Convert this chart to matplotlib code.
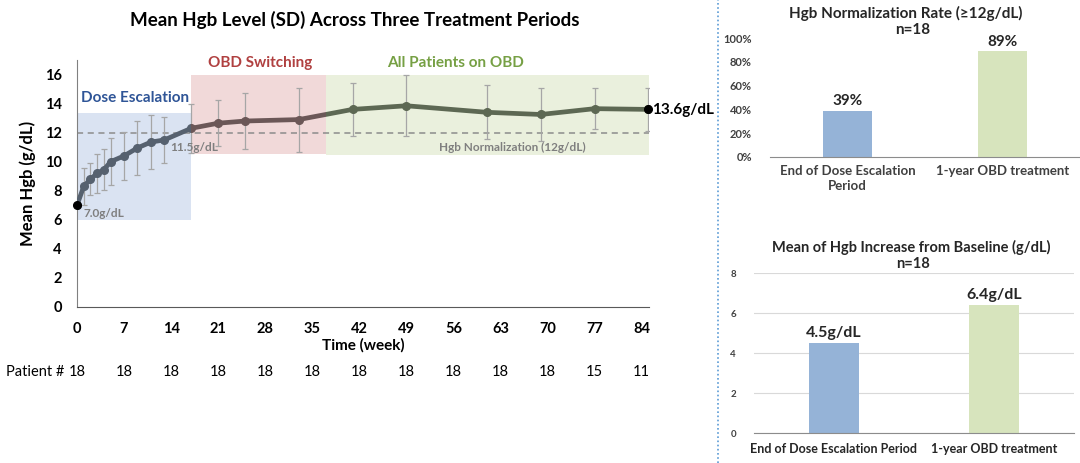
import matplotlib
matplotlib.use("Agg")
import matplotlib.pyplot as plt
from matplotlib.patches import Rectangle
from matplotlib.transforms import blended_transform_factory

plt.rcParams['font.family'] = ['Lato', 'DejaVu Sans']

# ---------------- data ----------------
weeks = [0, 1, 2, 3, 4, 5, 7, 9, 11, 13, 17, 21, 25, 33, 41, 49, 61, 69, 77, 85]
hgb_mean = [7.0, 8.3, 8.8, 9.2, 9.45, 10.0, 10.4, 10.95, 11.35, 11.5, 12.3, 12.65, 12.8, 12.9,
            13.6, 13.85, 13.4, 13.25, 13.65, 13.6]
hgb_sd = [0.0, 1.3, 1.1, 1.35, 1.4, 1.6, 1.65, 1.85, 1.85, 1.6, 1.7, 1.6, 1.9, 2.2,
          1.85, 2.1, 1.85, 1.85, 1.4, 1.5]
xtick_weeks = [0, 7, 14, 21, 28, 35, 42, 49, 56, 63, 70, 77, 84]
patients = [18, 18, 18, 18, 18, 18, 18, 18, 18, 18, 18, 15, 11]

periods = ["Dose Escalation", "OBD Switching", "All Patients on OBD"]
period_start = [0, 17, 37]
period_end = [17, 37, 85.2]
period_ylo = [6.0, 10.5, 10.45]
period_yhi = [13.35, 16.0, 15.95]

norm_level = 12

bar_cats = ["End of Dose Escalation\nPeriod", "1-year OBD treatment"]
norm_rate = [0.39, 0.89]
bar_cats2 = ["End of Dose Escalation Period", "1-year OBD treatment"]
hgb_increase = [4.5, 6.4]

# ---------------- figure ----------------
W, H = 1080, 463
fig = plt.figure(figsize=(W / 100, H / 100), dpi=100)

def box(l, t, r, b):
    return [l / W, 1 - b / H, (r - l) / W, (b - t) / H]

ax = fig.add_axes(box(77, 60, 649, 307))
ax.set_xlim(0, 85.1)
ax.set_ylim(0, 17)

fills = ['#dae3f2', '#f1d9d9', '#eaf0dd']
txtcol = ['#2f5597', '#b04040', '#76a044']
linecols = ['#56616f', '#6b5757', '#5d6853']

for i in range(3):
    ax.add_patch(Rectangle((period_start[i], period_ylo[i]), period_end[i] - period_start[i],
                           period_yhi[i] - period_ylo[i], facecolor=fills[i], edgecolor='none', zorder=0))

ax.axhline(norm_level, color='#8c8c8c', lw=1.1, ls=(0, (4, 3)), zorder=1)

ax.errorbar(weeks, hgb_mean, yerr=hgb_sd, fmt='none', ecolor='#a6a6a6', elinewidth=0.9,
            capsize=2.5, capthick=0.9, zorder=2)

for i in range(3):
    ln, = ax.plot(weeks, hgb_mean, color=linecols[i], lw=3.4, marker='o', ms=5.5,
                  solid_capstyle='round', zorder=3)
    clip = Rectangle((period_start[i], 0), period_end[i] - period_start[i], 17,
                     transform=ax.transData, facecolor='none', edgecolor='none')
    ax.add_patch(clip)
    ln.set_clip_path(clip)

ax.plot([weeks[0], weeks[-1]], [hgb_mean[0], hgb_mean[-1]], ls='none', marker='o', ms=5.5,
        color='black', zorder=4, clip_on=False)

# period labels
ax.text(0.6, 14.4, periods[0], color=txtcol[0], fontsize=11, fontweight='bold', va='center', ha='left')
ax.text(27.2, 16.8, periods[1], color=txtcol[1], fontsize=11, fontweight='bold', va='center', ha='center', clip_on=False)
ax.text(56.3, 16.8, periods[2], color=txtcol[2], fontsize=11, fontweight='bold', va='center', ha='center', clip_on=False)

ax.text(0.9, 6.45, "%.1fg/dL" % hgb_mean[0], color='#7f7f7f', fontsize=8.5, fontweight='bold', va='center')
ax.text(13.9, 10.95, "11.5g/dL", color='#7f7f7f', fontsize=8.5, fontweight='bold', va='center')
ax.text(64.7, 11.0, "Hgb Normalization (12g/dL)", color='#7f7f7f', fontsize=8.5, fontweight='bold',
        va='center', ha='center')
ax.text(85.6, hgb_mean[-1] - 0.05, "%.1fg/dL" % hgb_mean[-1], color='black', fontsize=11,
        fontweight='bold', va='center', ha='left', clip_on=False)

ax.set_xticks(xtick_weeks)
ax.set_yticks(range(0, 17, 2))
ax.tick_params(axis='both', length=0, labelsize=10.5)
ax.tick_params(axis='x', pad=11)
ax.tick_params(axis='y', pad=11)
for lab in ax.get_xticklabels() + ax.get_yticklabels():
    lab.set_fontweight('bold')
for s in ['top', 'right']:
    ax.spines[s].set_visible(False)
ax.spines['left'].set_color('#808080')
ax.spines['bottom'].set_color('#595959')
ax.set_xlabel("Time (week)", fontsize=11, fontweight='bold', labelpad=1)
ax.set_ylabel("Mean Hgb (g/dL)", fontsize=12, fontweight='bold', labelpad=6)

tr = blended_transform_factory(ax.transData, fig.transFigure)
for wk, n in zip(xtick_weeks, patients):
    ax.text(wk, 1 - 372 / H, str(n), transform=tr, fontsize=10.5, ha='center', va='center')
fig.text(64 / W, 1 - 372 / H, "Patient #", fontsize=10.5, ha='right', va='center')

fig.text(355 / W, 1 - 20 / H, "Mean Hgb Level (SD) Across Three Treatment Periods",
         fontsize=13.5, fontweight='bold', ha='center', va='center')

# divider
fig.add_artist(plt.Line2D([718 / W, 718 / W], [0, 1], color='#5b9bd5', lw=1.2, ls=(0, (1, 1.5))))

barcols = ['#95b3d7', '#d7e4bd']

# ---------------- top-right ----------------
ax2 = fig.add_axes(box(770, 38.3, 1080, 156.7))
ax2.bar(range(2), norm_rate, width=0.32, color=barcols, zorder=2)
ax2.set_xlim(-0.5, 1.5)
ax2.set_ylim(0, 1.0)
ax2.set_yticks([0, 0.2, 0.4, 0.6, 0.8, 1.0])
ax2.set_yticklabels(["0%", "20%", "40%", "60%", "80%", "100%"])
ax2.set_xticks(range(2))
ax2.set_xticklabels(bar_cats, fontsize=9.5, fontweight='bold', color='#404040', linespacing=1.25)
ax2.tick_params(axis='both', length=0)
ax2.tick_params(axis='y', labelsize=8, pad=13)
ax2.tick_params(axis='x', pad=6)
for lab in ax2.get_yticklabels():
    lab.set_fontweight('bold')
    lab.set_color('#404040')
for s in ['top', 'right', 'left']:
    ax2.spines[s].set_visible(False)
ax2.spines['bottom'].set_color('#8c8c8c')
for i, v in enumerate(norm_rate):
    ax2.text(i, v + 0.02, "%d%%" % round(v * 100), ha='center', va='bottom', fontsize=11,
             fontweight='bold', color='#262626')
fig.text(906 / W, 1 - 13 / H, "Hgb Normalization Rate (\u226512g/dL)", fontsize=11,
         fontweight='bold', ha='center', va='center', color='#262626')
fig.text(913 / W, 1 - 30 / H, "n=18", fontsize=11, fontweight='bold', ha='center', va='center',
         color='#262626')

# ---------------- bottom-right ----------------
ax3 = fig.add_axes(box(754, 273.3, 1074, 433.3))
ax3.bar(range(2), hgb_increase, width=0.31, color=barcols, zorder=2)
ax3.set_xlim(-0.5, 1.5)
ax3.set_ylim(0, 8)
ax3.set_yticks(range(0, 9, 2))
ax3.grid(axis='y', color='#d9d9d9', lw=0.8, zorder=0)
ax3.set_xticks(range(2))
ax3.set_xticklabels(bar_cats2, fontsize=9, fontweight='bold', color='#262626')
ax3.tick_params(axis='both', length=0)
ax3.tick_params(axis='y', labelsize=7, pad=13)
ax3.tick_params(axis='x', pad=7)
for lab in ax3.get_yticklabels():
    lab.set_fontweight('bold')
    lab.set_color('#404040')
for s in ['top', 'right', 'left']:
    ax3.spines[s].set_visible(False)
ax3.spines['bottom'].set_color('#8c8c8c')
for i, v in enumerate(hgb_increase):
    ax3.text(i, v + 0.15, "%.1fg/dL" % v, ha='center', va='bottom', fontsize=11.5,
             fontweight='bold', color='#262626')
fig.text(911 / W, 1 - 247 / H, "Mean of Hgb Increase from Baseline (g/dL)", fontsize=10.5,
         fontweight='bold', ha='center', va='center', color='#262626')
fig.text(913 / W, 1 - 264 / H, "n=18", fontsize=10.5, fontweight='bold', ha='center', va='center',
         color='#262626')

fig.savefig("out.png", dpi=100)
